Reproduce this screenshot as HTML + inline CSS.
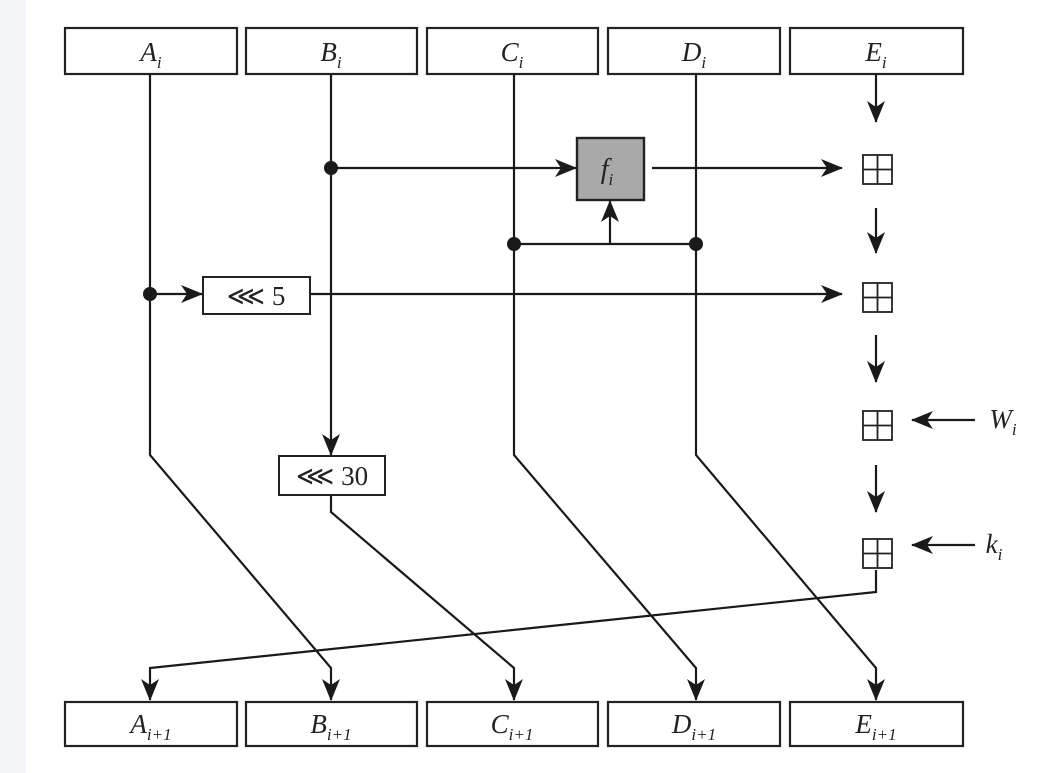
<!DOCTYPE html>
<html><head><style>
html,body{margin:0;padding:0;background:#fff;}
svg{display:block;}
text{font-family:"Liberation Serif",serif;fill:#222;}
</style></head><body>
<svg width="1062" height="773" viewBox="0 0 1062 773" xmlns="http://www.w3.org/2000/svg">
<defs>
<marker id="ah" viewBox="0 0 22 18" refX="21" refY="9" markerWidth="22" markerHeight="18" markerUnits="userSpaceOnUse" orient="auto">
<path d="M0,0 L22,9 L0,18 L6,9 Z" fill="#1a1a1a"/>
</marker>
</defs>
<rect x="0" y="0" width="26" height="773" fill="#f3f5f9"/>
<g fill="#fff" stroke="#222" stroke-width="2.2">
<rect x="65" y="28" width="172" height="46"/>
<rect x="246" y="28" width="171" height="46"/>
<rect x="427" y="28" width="171" height="46"/>
<rect x="608" y="28" width="172" height="46"/>
<rect x="790" y="28" width="173" height="46"/>
<rect x="65" y="702" width="172" height="44"/>
<rect x="246" y="702" width="171" height="44"/>
<rect x="427" y="702" width="171" height="44"/>
<rect x="608" y="702" width="172" height="44"/>
<rect x="790" y="702" width="173" height="44"/>
</g>
<g font-style="italic" font-size="27" text-anchor="middle">
<text x="151" y="61">A<tspan font-size="17" dy="7">i</tspan></text>
<text x="331" y="61">B<tspan font-size="17" dy="7">i</tspan></text>
<text x="512" y="61">C<tspan font-size="17" dy="7">i</tspan></text>
<text x="694" y="61">D<tspan font-size="17" dy="7">i</tspan></text>
<text x="876" y="61">E<tspan font-size="17" dy="7">i</tspan></text>
<text x="151" y="733">A<tspan font-size="17" dy="7">i+1</tspan></text>
<text x="331" y="733">B<tspan font-size="17" dy="7">i+1</tspan></text>
<text x="512" y="733">C<tspan font-size="17" dy="7">i+1</tspan></text>
<text x="694" y="733">D<tspan font-size="17" dy="7">i+1</tspan></text>
<text x="876" y="733">E<tspan font-size="17" dy="7">i+1</tspan></text>
<text x="1003" y="428">W<tspan font-size="17" dy="7">i</tspan></text>
<text x="994" y="553">k<tspan font-size="17" dy="7">i</tspan></text>
</g>
<g stroke="#1a1a1a" stroke-width="2.2" fill="none">
<polyline points="150,74 150,455 331,668 331,700" marker-end="url(#ah)"/>
<polyline points="331,74 331,455" marker-end="url(#ah)"/>
<polyline points="331,495 331,512 514,668 514,700" marker-end="url(#ah)"/>
<polyline points="514,74 514,455 696,668 696,700" marker-end="url(#ah)"/>
<polyline points="696,74 696,455 876,668 876,700" marker-end="url(#ah)"/>
<polyline points="876,570 876,592 150,668 150,700" marker-end="url(#ah)"/>
<line x1="331" y1="168" x2="576" y2="168" marker-end="url(#ah)"/>
<line x1="652" y1="168" x2="842" y2="168" marker-end="url(#ah)"/>
<line x1="514" y1="244" x2="696" y2="244"/>
<line x1="610" y1="244" x2="610" y2="201" marker-end="url(#ah)"/>
<line x1="150" y1="294" x2="202" y2="294" marker-end="url(#ah)"/>
<line x1="310" y1="294" x2="842" y2="294" marker-end="url(#ah)"/>
<line x1="876" y1="74" x2="876" y2="122" marker-end="url(#ah)"/>
<line x1="876" y1="208" x2="876" y2="253" marker-end="url(#ah)"/>
<line x1="876" y1="335" x2="876" y2="382" marker-end="url(#ah)"/>
<line x1="876" y1="465" x2="876" y2="512" marker-end="url(#ah)"/>
<line x1="975" y1="420" x2="912" y2="420" marker-end="url(#ah)"/>
<line x1="975" y1="545" x2="912" y2="545" marker-end="url(#ah)"/>
</g>
<g fill="#1a1a1a">
<circle cx="331" cy="168" r="7"/>
<circle cx="150" cy="294" r="7"/>
<circle cx="514" cy="244" r="7"/>
<circle cx="696" cy="244" r="7"/>
</g>
<rect x="577" y="138" width="67" height="62" fill="#a9a9a9" stroke="#222" stroke-width="2.4"/>
<text x="607" y="178" font-style="italic" font-size="28" text-anchor="middle">f<tspan font-size="17" dy="7">i</tspan></text>
<rect x="203" y="277" width="107" height="37" fill="#fff" stroke="#222" stroke-width="2"/>
<text x="256" y="305" font-size="27" text-anchor="middle">⋘ 5</text>
<rect x="279" y="456" width="106" height="39" fill="#fff" stroke="#222" stroke-width="2"/>
<text x="332" y="485" font-size="27" text-anchor="middle">⋘ 30</text>
<g fill="#fff" stroke="#222" stroke-width="1.8">
<g transform="translate(863,155)"><rect width="29" height="29"/><path d="M14.5,0V29M0,14.5H29"/></g>
<g transform="translate(863,283)"><rect width="29" height="29"/><path d="M14.5,0V29M0,14.5H29"/></g>
<g transform="translate(863,411)"><rect width="29" height="29"/><path d="M14.5,0V29M0,14.5H29"/></g>
<g transform="translate(863,539)"><rect width="29" height="29"/><path d="M14.5,0V29M0,14.5H29"/></g>
</g>
</svg>
</body></html>
